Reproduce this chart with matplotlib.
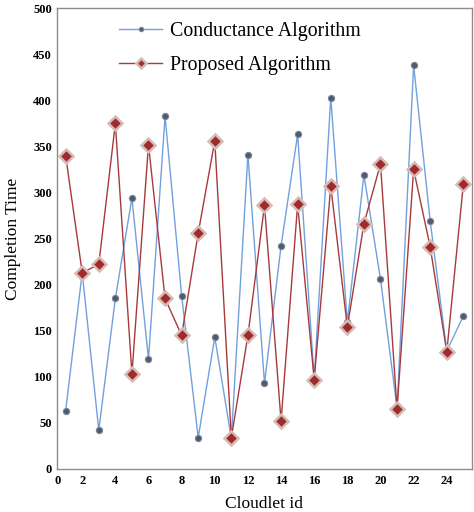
import matplotlib
matplotlib.use("Agg")
import matplotlib.pyplot as plt

plt.rcParams['font.family'] = ['Liberation Serif', 'DejaVu Serif']

# cloudlet ids and completion times
cloudlet_id = list(range(1, 26))
conductance = [63, 213, 42, 185, 294, 119, 383, 188, 34, 143, 33, 341, 93, 242, 363,
               98, 403, 159, 319, 206, 66, 438, 269, 128, 166]
proposed = [340, 213, 222, 375, 103, 352, 185, 145, 256, 356, 34, 145, 286, 52, 287,
            97, 307, 154, 266, 331, 65, 325, 241, 127, 309]
tick_pos = [0.5] + list(range(2, 25, 2))
tick_lab = [str(t) for t in range(0, 25, 2)]

fig, ax = plt.subplots(figsize=(4.74, 5.12), dpi=100)
fig.subplots_adjust(left=0.121, right=0.995, top=0.984, bottom=0.084)

ax.plot(cloudlet_id, conductance, color='#72a0de', lw=1.0, marker='o', ms=4.5,
        mfc='#4e5b6e', mec='#7d8798', mew=0.8, label='Conductance Algorithm', zorder=2)
ax.plot(cloudlet_id, proposed, color='#a8393c', lw=1.0, marker='D', ms=7,
        mfc='#a02b2e', mec='#d6bcb4', mew=1.8, label='Proposed Algorithm', zorder=3)

ax.set_xlim(0.5, 25.5)
ax.set_ylim(0, 500)
ax.set_yticks(range(0, 501, 50))
ax.set_xticks(tick_pos)
ax.set_xticklabels(tick_lab)
ax.tick_params(length=0, labelsize=9, pad=4)
for lab in ax.get_xticklabels() + ax.get_yticklabels():
    lab.set_fontweight('bold')

for s in ax.spines.values():
    s.set_color('#8c8c8c')
    s.set_linewidth(1.0)

ax.set_xlabel('Cloudlet id', fontsize=12.5, labelpad=7)
ax.set_ylabel('Completion Time', fontsize=12.5, labelpad=9)

ax.legend(loc='upper left', bbox_to_anchor=(0.105, 1.009), frameon=False, fontsize=14.3,
          handlelength=2.2, handletextpad=0.4, labelspacing=0.75, markerscale=0.7)

fig.savefig('out.png', dpi=100)
